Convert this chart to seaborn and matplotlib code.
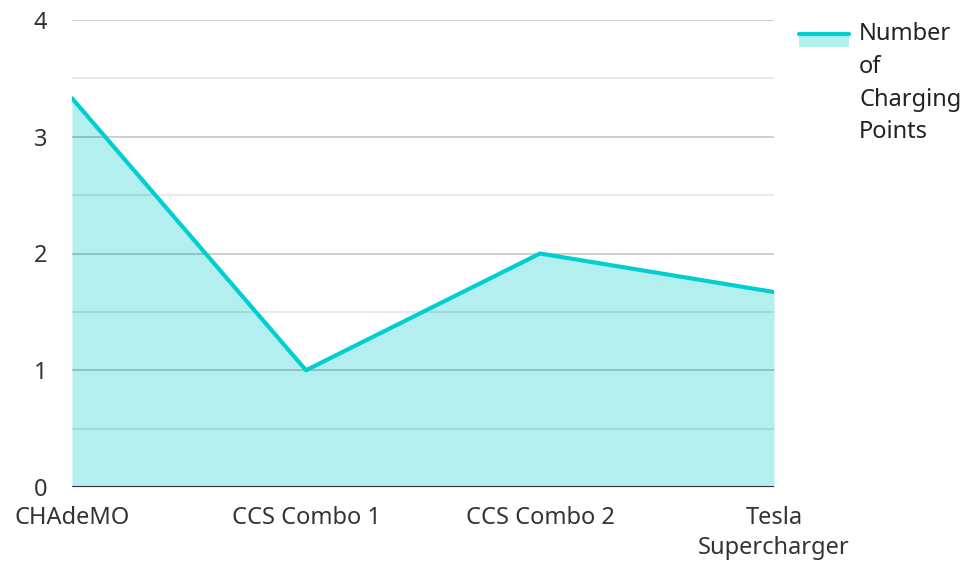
import numpy as np
import pandas as pd
import matplotlib
matplotlib.use("Agg")
import matplotlib.pyplot as plt
import seaborn as sns
from matplotlib.legend_handler import HandlerBase
from matplotlib.patches import Rectangle
from matplotlib.lines import Line2D

connectors = ["CHAdeMO", "CCS Combo 1", "CCS Combo 2", "Tesla\nSupercharger"]
charging_points = [3.33, 1, 2, 1.67]
series_name = "Number\nof\nCharging\nPoints"

line_color = "#00CED1"
fill_color = "#B2EFEE"

df = pd.DataFrame({"pos": np.arange(len(connectors)), "points": charging_points})

sns.set_theme(style="white")
plt.rcParams["font.family"] = ["Noto Sans", "DejaVu Sans"]

fig = plt.figure(figsize=(9.69, 5.61), dpi=100)
ax = fig.add_axes([72 / 969, 1 - 487 / 561, (774 - 72) / 969, (487 - 20) / 561])

# area under the line
ax.fill_between(df["pos"], df["points"], 0, color=fill_color, lw=0, zorder=1)
sns.lineplot(data=df, x="pos", y="points", color=line_color, lw=3, ax=ax, zorder=3)

# grid drawn over the fill
for v in np.arange(0.5, 4.0, 1.0):
    ax.axhline(v, color="#000000", alpha=0.1, lw=1.2, zorder=2)
for v in [1, 2, 3, 4]:
    ax.axhline(v, color="#000000", alpha=0.22, lw=1.2, zorder=2)
ax.axhline(0, color="#333333", lw=2.2, zorder=4)

ax.set_xlim(0, len(connectors) - 1)
ax.set_ylim(0, 4)
ax.set_xticks(df["pos"])
ax.set_xticklabels(connectors, linespacing=1.3)
ax.set_yticks([0, 1, 2, 3, 4])
ax.tick_params(axis="both", length=0, labelsize=17, colors="#333333")
ax.tick_params(axis="y", pad=18)
ax.tick_params(axis="x", pad=14)
ax.set_xlabel("")
ax.set_ylabel("")
for s in ax.spines.values():
    s.set_visible(False)


class AreaHandler(HandlerBase):
    # fill swatch with the line on its top edge, lifted to the first text line
    lift = 33

    def create_artists(self, legend, orig_handle, xdescent, ydescent,
                       width, height, fontsize, trans):
        y0 = -ydescent - 1 + self.lift
        rect = Rectangle((-xdescent, y0), width, height - 1,
                         facecolor=fill_color, lw=0, transform=trans)
        top = y0 + height - 1.5
        line = Line2D([-xdescent, -xdescent + width], [top, top],
                      color=line_color, lw=3, transform=trans)
        return [rect, line]


proxy = Rectangle((0, 0), 1, 1)
leg = fig.legend([proxy], [series_name], handler_map={Rectangle: AreaHandler()},
                 loc="upper left", bbox_to_anchor=(799 / 969, 1 - 22 / 561),
                 frameon=False, fontsize=17, handlelength=2.1, handleheight=0.55,
                 handletextpad=0.45, borderaxespad=0, borderpad=0,
                 alignment="left")
for t in leg.get_texts():
    t.set_color("#222222")
    t.set_linespacing(1.49)

fig.savefig("out.png", dpi=100)
